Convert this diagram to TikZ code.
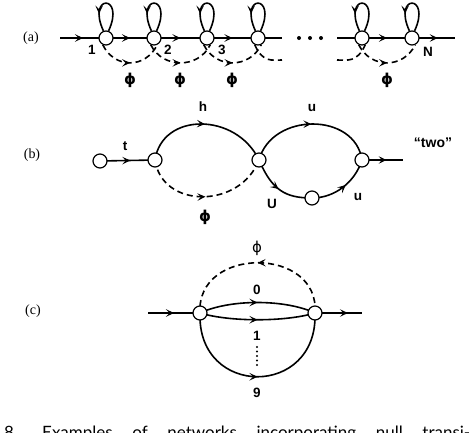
\documentclass[tikz,border=0pt]{standalone}
\usepackage{fontspec}
\setmainfont{Liberation Serif}
\newfontfamily\labfont{Liberation Sans}
\newfontfamily\phifont{DejaVu Sans}
\newfontfamily\capfont{Lato}
\usetikzlibrary{arrows.meta,decorations.markings}
\pgfdeclarelayer{bg}
\pgfsetlayers{bg,main}
\tikzset{
  edge/.style={line width=1.6pt},
  dashedge/.style={line width=1.6pt, dash pattern=on 6pt off 4pt},
  st/.style={circle, draw, fill=white, line width=1.2pt, minimum size=14pt, inner sep=0pt},
  midarrow/.style={postaction={solid, decorate, decoration={markings,
      mark=at position #1 with {\arrow{Stealth[length=8pt,width=7.5pt,inset=3.5pt]}}}}},
  lab/.style={font=\labfont\bfseries\fontsize{13.5}{13.5}\selectfont, inner sep=0pt},
  plab/.style={font=\fontsize{14}{14}\selectfont, inner sep=0pt},
  philab/.style={font=\phifont\bfseries\fontsize{15}{15}\selectfont, inner sep=0pt},
  dotmark/.style={circle, fill, inner sep=0pt, minimum size=4pt},
}
\begin{document}
\begin{tikzpicture}[x=1pt,y=-1pt]
\useasboundingbox (0,0) rectangle (474,432);
\clip (0,0) rectangle (474,432);

% ---------------- (a)
\node[plab] (pa) at (31,38) {(a)};
\node[st] (a1) at (106,38) {};
\node[st] (a2) at (154,38) {};
\node[st] (a3) at (207,38) {};
\node[st] (a4) at (258,38) {};
\node[st] (a5) at (362,38) {};
\node[st] (a6) at (412,38) {};
\coordinate (ain) at (60,38);
\coordinate (aout) at (455,38);
\coordinate (a4e) at (282,38);
\coordinate (a5s) at (337,38);
\coordinate (a4d) at (282,60);
\coordinate (a5d) at (337,60);
\node[lab] (l1) at (92,50) {1};
\node[lab] (l2) at (168,50) {2};
\node[lab] (l3) at (222,50) {3};
\node[lab] (lN) at (428,52) {N};
\node[philab] (p1) at (130,80) {ϕ};
\node[philab] (p2) at (180,80) {ϕ};
\node[philab] (p3) at (232,80) {ϕ};
\node[philab] (p4) at (387,80) {ϕ};
\foreach \i in {1,...,6}{
  \draw[edge, midarrow=0.72] (a\i.70) .. controls +(17,-37) and +(-17,-37) .. (a\i.110);
}
\node[dotmark] (d1) at (299,38) {};
\node[dotmark] (d2) at (310,38) {};
\node[dotmark] (d3) at (321,38) {};
\begin{pgfonlayer}{bg}
\draw[edge, midarrow=0.5] (ain) -- (a1.center);
\draw[edge, midarrow=0.5] (a1.center) -- (a2.center);
\draw[edge, midarrow=0.5] (a2.center) -- (a3.center);
\draw[edge, midarrow=0.5] (a3.center) -- (a4.center);
\draw[edge] (a4.center) -- (a4e);
\draw[edge] (a5s) -- (a5.center);
\draw[edge, midarrow=0.5] (a5.center) -- (a6.center);
\draw[edge, midarrow=0.6] (a6.center) -- (aout);
\end{pgfonlayer}
\draw[dashedge, midarrow=0.5] (a1.-115) .. controls +(12,24) and +(-12,24) .. (a2.-65);
\draw[dashedge, midarrow=0.5] (a2.-115) .. controls +(12,24) and +(-12,24) .. (a3.-65);
\draw[dashedge, midarrow=0.5] (a3.-115) .. controls +(12,24) and +(-12,24) .. (a4.-65);
\draw[dashedge] (a4.-115) .. controls +(8,18) and +(-10,0) .. (a4d);
\draw[dashedge] (a5d) .. controls +(10,0) and +(-8,18) .. (a5.-65);
\draw[dashedge, midarrow=0.5] (a5.-115) .. controls +(12,24) and +(-12,24) .. (a6.-65);

% ---------------- (b)
\node[plab] (pb) at (32,155) {(b)};
\node[st] (bs) at (100,161) {};
\node[st] (bB) at (155,160) {};
\node[st] (bC) at (259,160) {};
\node[st] (bD) at (362,160) {};
\node[st] (bE) at (312,198) {};
\coordinate (bout) at (403,160);
\node[lab] (lt) at (125,146) {t};
\node[lab] (lh) at (203,107) {h};
\node[lab] (lu1) at (312,108) {u};
\node[lab] (lU) at (272,204) {U};
\node[lab] (lu2) at (358,197) {u};
\node[philab] (lphib) at (205,217) {ϕ};
\node[lab, font=\labfont\bfseries\fontsize{14}{14}\selectfont] (ltwo) at (433,143) {“two”};
\begin{pgfonlayer}{bg}
\draw[edge, midarrow=0.55] (bs.center) -- (bB.center);
\draw[edge, midarrow=0.5] (bB.center) .. controls (162,112) and (236,112) .. (bC.center);
\draw[dashedge, midarrow=0.5] (bB.center) .. controls (162,209) and (240,209) .. (bC.center);
\draw[edge, midarrow=0.5] (bC.center) .. controls (272,112) and (355,112) .. (bD.center);
\draw[edge, midarrow=0.5] (bC.center) .. controls (272,190) and (285,198) .. (bE.center);
\draw[edge, midarrow=0.55] (bE.center) .. controls (335,198) and (355,182) .. (bD.center);
\draw[edge, midarrow=0.6] (bD.center) -- (bout);
\end{pgfonlayer}

% ---------------- (c)
\node[plab] (pc) at (33,311) {(c)};
\node[st] (cL) at (200,313) {};
\node[st] (cR) at (315,313) {};
\coordinate (cin) at (148,313);
\coordinate (cout) at (362,313);
\node[philab, font=\phifont\fontsize{15}{15}\selectfont] (lphic) at (257,248) {ϕ};
\node[lab] (l0) at (257,290) {0};
\node[lab] (l1c) at (257,336) {1};
\node[lab] (l9) at (257,393) {9};
\coordinate (dtop) at (257,347);
\coordinate (dbot) at (257,368);
\draw[line width=2.4pt, line cap=round, dash pattern=on 0pt off 4.5pt] (dtop) -- (dbot);
\begin{pgfonlayer}{bg}
\draw[edge, midarrow=0.5] (cin) -- (cL.center);
\draw[edge, midarrow=0.7] (cR.center) -- (cout);
\draw[dashedge, midarrow=0.5] (cR.center) .. controls (320,246) and (196,246) .. (cL.center);
\draw[edge, midarrow=0.5] (cL.center) .. controls (230,299) and (285,299) .. (cR.center);
\draw[edge, midarrow=0.5] (cL.center) .. controls (230,322) and (285,322) .. (cR.center);
\draw[edge, midarrow=0.5] (cL.center) .. controls (197,398) and (318,398) .. (cR.center);
\end{pgfonlayer}

% ---------------- caption (cut off at the bottom edge, as in the reference)
\node[anchor=base west, inner sep=0pt, font=\capfont\fontsize{17}{17}\selectfont] (cap8) at (4,438) {8};
\node[anchor=base west, inner sep=0pt, font=\capfont\fontsize{17}{17}\selectfont] (cap) at (42,438)
  {\makebox[428pt][s]{Examples of networks incorporating null transi-}};
\end{tikzpicture}
\end{document}
